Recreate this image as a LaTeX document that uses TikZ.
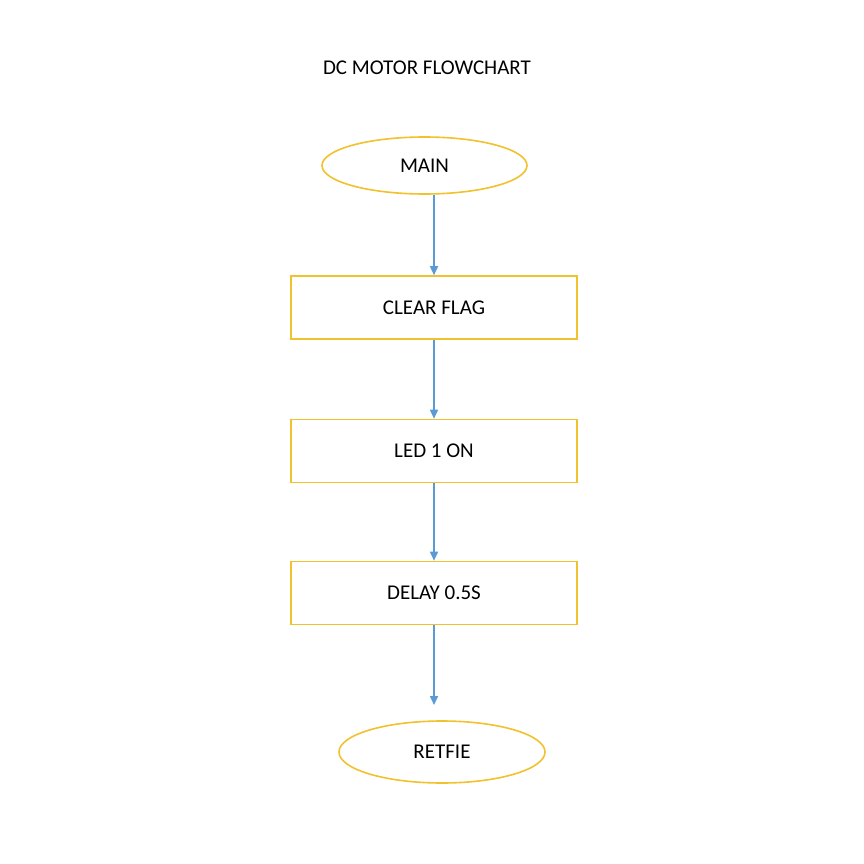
\documentclass[tikz,border=0pt]{standalone}
\usepackage{fontspec}
\setmainfont{Carlito}
\usetikzlibrary{shapes.geometric,arrows.meta}
\definecolor{gold}{HTML}{F2C12E}
\definecolor{flowblue}{HTML}{5B9BD5}
\tikzset{
  procbox/.style={draw=gold,line width=1.6pt,minimum width=286pt,minimum height=63pt,inner sep=0pt,font=\fontsize{21}{25}\selectfont},
  term/.style={draw=gold,line width=1.6pt,ellipse,inner sep=0pt,font=\fontsize{21}{25}\selectfont},
  flow/.style={draw=flowblue,line width=1.6pt,-{Triangle[width=8pt,length=9pt]}}
}
\begin{document}
\begin{tikzpicture}[x=1pt,y=-1pt]
\useasboundingbox (0,0) rectangle (864,864);
\fill[white] (0,0) rectangle (864,864);
\node[font=\fontsize{21}{25}\selectfont] (title) at (427,68) {DC MOTOR FLOWCHART};
\node[term,minimum width=205pt,minimum height=57pt] (main) at (424.5,165.5) {MAIN};
\node[procbox] (clear) at (434,307.5) {CLEAR FLAG};
\node[procbox] (led) at (434,451) {LED 1 ON};
\node[procbox] (delay) at (434,593) {DELAY 0.5S};
\node[term,minimum width=206pt,minimum height=62pt] (ret) at (442,752) {RETFIE};
\coordinate (retin) at (434,705);
\draw[flow] (clear.north |- main.south) -- (clear.north);
\draw[flow] (clear.south) -- (led.north);
\draw[flow] (led.south) -- (delay.north);
\draw[flow] (delay.south) -- (retin);
\end{tikzpicture}
\end{document}
